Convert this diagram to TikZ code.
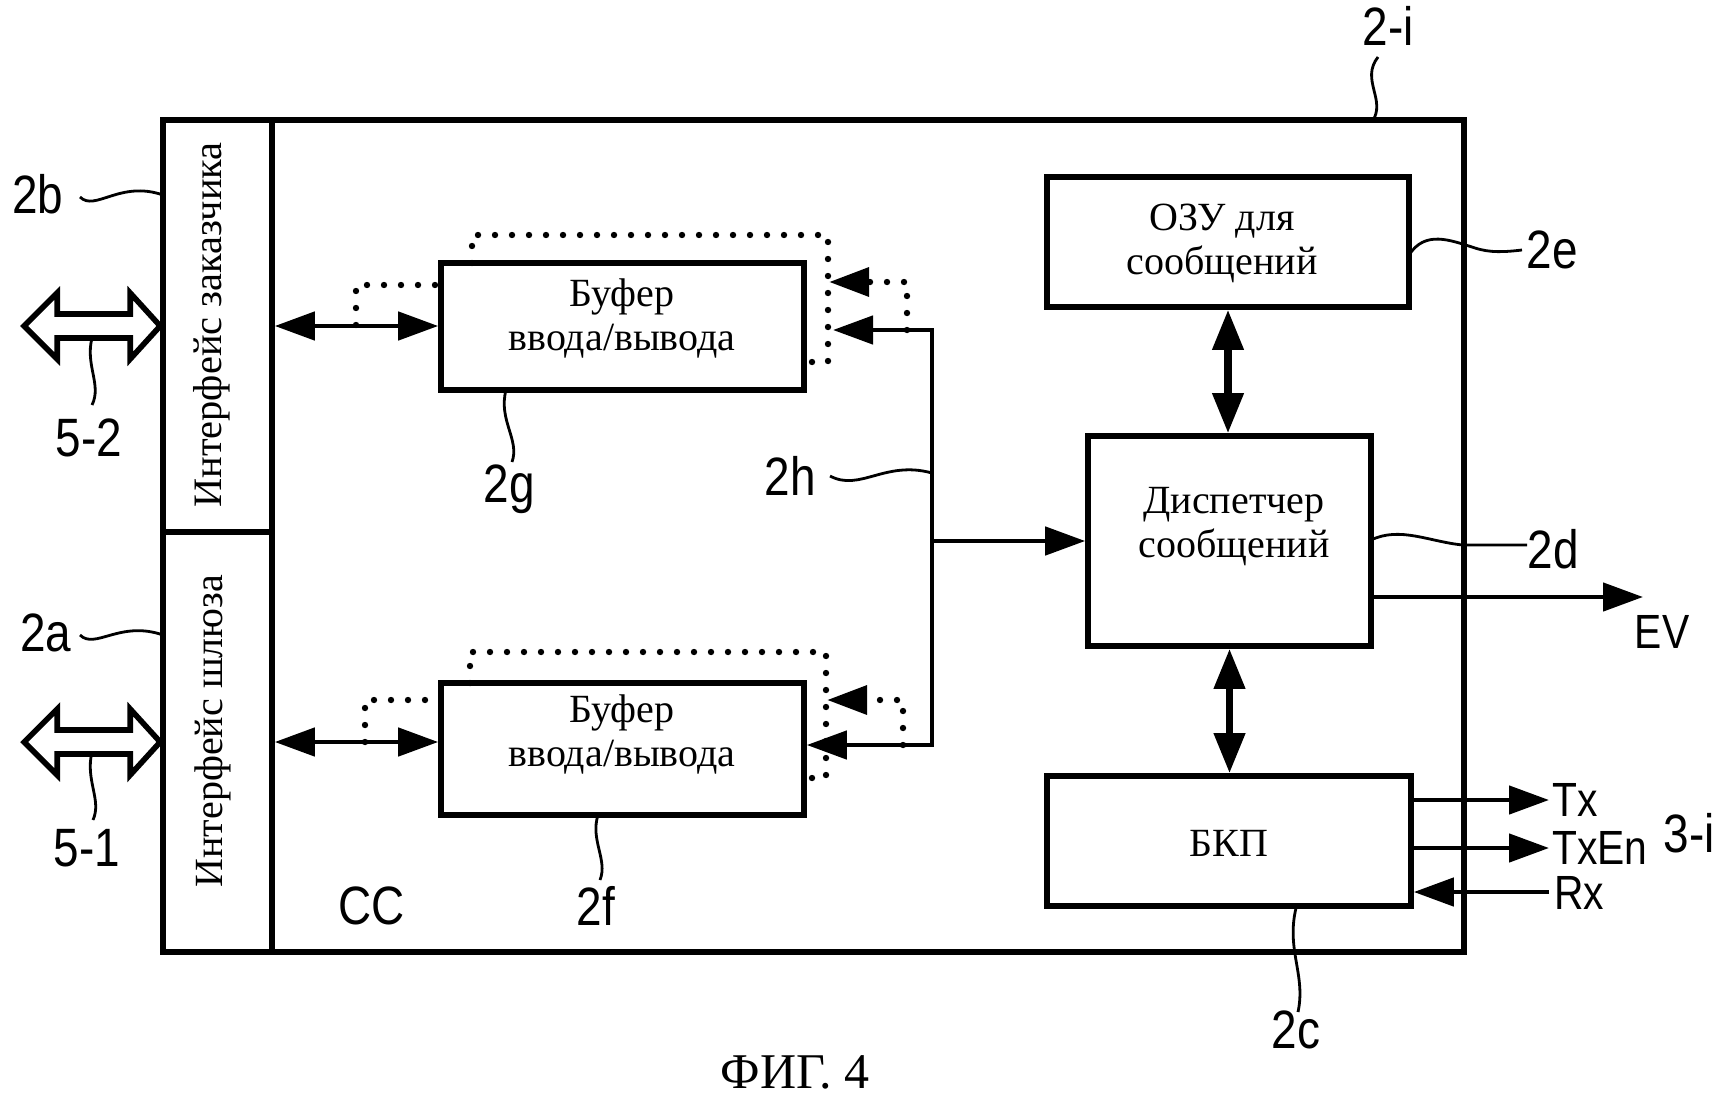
\documentclass[tikz,border=0pt]{standalone}
\usepackage{fontspec}
\setmainfont{Liberation Serif}
\newfontfamily\labfont[FakeStretch=0.85]{Liberation Sans}
\usetikzlibrary{arrows.meta}
\begin{document}
\begin{tikzpicture}[x=0.5pt,y=-0.5pt,
 blk/.style={draw, line width=2.8pt, inner sep=0pt},
 txt/.style={align=center, font=\fontsize{20}{22}\selectfont, inner sep=0pt},
 lab/.style={font=\labfont\fontsize{27}{27}\selectfont, inner sep=0pt},
 sig/.style={font=\labfont\fontsize{24}{24}\selectfont, inner sep=0pt},
 con/.style={line width=2.3pt},
 tip/.style={-{Triangle[length=20pt,width=14pt]}},
 tips/.style={{Triangle[length=20pt,width=14pt]}-{Triangle[length=20pt,width=14pt]}},
 bigtips/.style={line width=3.6pt,{Triangle[length=20pt,width=15pt]}-{Triangle[length=20pt,width=15pt]}},
 dots/.style={line width=3.2pt, line cap=round, dash pattern=on 0pt off 8.5pt},
 lead/.style={line width=1.4pt},
 hollow/.style={line width=2.8pt, line join=miter}]
\useasboundingbox (0,0) rectangle (1716,1107);

% frames
\node[blk, minimum width=650.5pt, minimum height=416pt] (dev) at (813.5,536) {};
\node[blk, minimum width=54.5pt, minimum height=206pt] (ifB) at (217.5,326) {};
\node[blk, minimum width=54.5pt, minimum height=210pt] (ifA) at (217.5,742) {};
\node[txt, rotate=90, font=\fontsize{20.2}{22}\selectfont] (tB) at (212,325) {Интерфейс заказчика};
\node[txt, rotate=90] (tA) at (213,731) {Интерфейс шлюза};

\node[blk, minimum width=181.5pt, minimum height=63.5pt] (buf1) at (622.5,326.5) {};
\node[txt] (tbuf1) at (622,318) {Буфер\\ввода/вывода};
\node[blk, minimum width=181.5pt, minimum height=66pt] (buf2) at (622.5,749) {};
\node[txt] (tbuf2) at (622,734) {Буфер\\ввода/вывода};

\node[blk, minimum width=181pt, minimum height=65pt] (ozu) at (1228,242) {};
\node[txt] (tozu) at (1222,243) {ОЗУ для\\сообщений};
\node[blk, minimum width=141.5pt, minimum height=105pt] (disp) at (1229.5,541) {};
\node[txt] (tdisp) at (1234,527) {Диспетчер\\сообщений};
\node[blk, minimum width=182pt, minimum height=65pt] (bkp) at (1229,841) {};
\node[txt] (tbkp) at (1229,843) {БКП};

% dotted feedback frames
\draw[dots] (472,263) -- (472,235) -- (828,235) -- (828,362) -- (812,362);
\draw[dots] (470,683) -- (470,652) -- (826,652) -- (826,778) -- (808,778);
\draw[dots] (356,325) -- (356,285) -- (441,285);
\draw[dots] (365,742) -- (365,700) -- (441,700);
\coordinate (d1) at (829,282);
\coordinate (d2) at (827,700);
\draw[dots, tip] (907,330) -- (907,282) -- (d1);
\draw[dots, tip] (903,745) -- (903,700) -- (d2);

% bus 2h
\coordinate (bt) at (932,330);
\coordinate (bb) at (932,745);
\coordinate (a1) at (833,330);
\draw[con, tips] (a1) -- (bt) -- (bb) -- (buf2.east |- bb);
\draw[con, tip] (bt |- disp.west) -- (disp.west);

% interface links
\draw[con, tips] (ifB.east) -- (buf1.west |- ifB.east);
\draw[con, tips] (ifA.east) -- (buf2.west |- ifA.east);

% hollow bus arrows
\draw[hollow] (ifB.west) -- ++(-30,-33) -- ++(0,21) -- ++(-73,0) -- ++(0,-21) -- ++(-33,33)
  -- ++(33,33) -- ++(0,-21) -- ++(73,0) -- ++(0,21) -- cycle;
\draw[hollow] (ifA.west) -- ++(-30,-33) -- ++(0,21) -- ++(-73,0) -- ++(0,-21) -- ++(-33,33)
  -- ++(33,33) -- ++(0,-21) -- ++(73,0) -- ++(0,21) -- cycle;

% right side links
\draw[bigtips] (ozu.south) -- (ozu.south |- disp.north);
\draw[bigtips] (disp.south) -- (disp.south |- bkp.north);
\coordinate (ev) at (1643,597);
\draw[con, tip] (disp.east |- ev) -- (ev);
\coordinate (tx) at (1549,800);
\coordinate (txen) at (1549,848);
\coordinate (rx) at (1549,892);
\draw[con, tip] (bkp.east |- tx) -- (tx);
\draw[con, tip] (bkp.east |- txen) -- (txen);
\draw[con, tip] (rx) -- (bkp.east |- rx);

% labels
\node[lab] (l2b) at (38,194) {2b};
\node[lab] (l52) at (89,438) {5-2};
\node[lab] (l2a) at (46,633) {2a};
\node[lab] (l51) at (87,848) {5-1};
\node[lab] (l2g) at (509,489) {2g};
\node[lab] (l2f) at (596,906) {2f};
\node[lab] (l2h) at (790,476) {2h};
\node[lab] (lcc) at (372,906) {CC};
\node[lab] (l2e) at (1552,250) {2e};
\node[lab] (l2d) at (1553,549) {2d};
\node[lab] (l2c) at (1296,1030) {2c};
\node[lab] (l2i) at (1388,26) {2-i};
\node[lab] (l3i) at (1689,833) {3-i};
\node[sig] (lev) at (1662,632) {EV};
\node[sig, anchor=west] (ltx) at (1552,800) {Tx};
\node[sig, anchor=west] (ltxen) at (1552,848) {TxEn};
\node[sig, anchor=west] (lrx) at (1554,893) {Rx};
\node[font=\fontsize{25}{25}\selectfont] (fig) at (795,1072) {ФИГ. 4};

% leader squiggles
\draw[lead] (80,197) .. controls (95,212) and (120,180) .. (163,195);
\draw[lead] (80,635) .. controls (95,650) and (120,620) .. (163,635);
\draw[lead] (92,338) .. controls (85,365) and (102,385) .. (92,405);
\draw[lead] (92,752) .. controls (85,780) and (102,800) .. (93,820);
\draw[lead] (506,390) .. controls (498,420) and (520,440) .. (512,462);
\draw[lead] (598,815) .. controls (590,840) and (608,860) .. (600,880);
\draw[lead] (830,476) .. controls (860,492) and (885,460) .. (932,473);
\draw[lead] (1409,255) .. controls (1425,230) and (1450,240) .. (1475,248) .. controls (1490,253) and (1505,252) .. (1522,250);
\draw[lead] (1371,540) .. controls (1400,526) and (1430,542) .. (1463,545) -- (1527,545);
\draw[lead] (1296,908) .. controls (1286,950) and (1306,975) .. (1298,1012);
\draw[lead] (1378,57) .. controls (1360,80) and (1387,100) .. (1372,122);
\end{tikzpicture}
\end{document}
